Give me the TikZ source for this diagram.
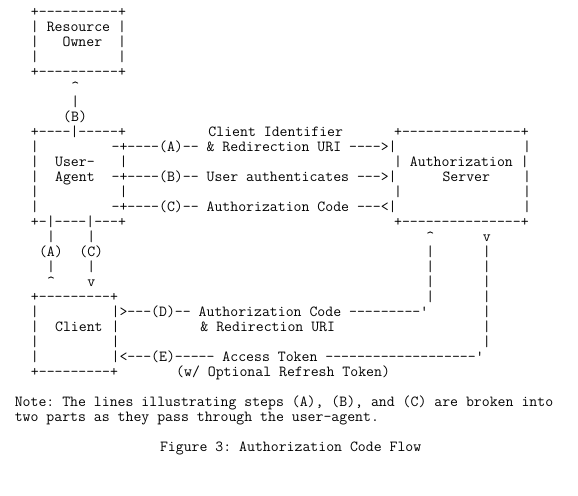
\documentclass[tikz,border=0pt]{standalone}
\usepackage{fontspec}
\setmonofont{Latin Modern Mono}
\usepackage{tikz}

\begin{document}
\begin{tikzpicture}[
    x = 6.0525pt,
    y = -11.25pt,
    ascii/.style = {
      anchor = base west,
      inner sep = 0pt,
      outer sep = 0pt,
      font = \ttfamily\fontsize{11.53pt}{11.25pt}\selectfont}]
  \useasboundingbox (1.165,-0.133) rectangle (72.79,32.93);

% resource owner
  \node[ascii] (owner top) at (5,1) {+----------+};
  \node[ascii] (owner l2)  at (5,2) {| Resource |};
  \node[ascii] (owner l3)  at (5,3) {|~~~Owner~~|};
  \node[ascii] (owner l4)  at (5,4) {|~~~~~~~~~~|};
  \node[ascii] (owner bot) at (5,5) {+----------+};

  \node[ascii] (b up)    at (10,6) {\textasciicircum};
  \node[ascii] (b bar)   at (10,7) {|};
  \node[ascii] (b label) at (9,8)  {(B)};

% user-agent
  \node[ascii] (agent top) at (5,9)  {+----|-----+};
  \node[ascii] (agent l10) at (5,10) {|};
  \node[ascii] (agent l11) at (5,11) {|};
  \node[ascii] (agent l12) at (5,12) {|};
  \node[ascii] (agent l13) at (5,13) {|};
  \node[ascii] (agent l14) at (5,14) {|};
  \node[ascii] (agent user)  at (8,11) {User-};
  \node[ascii] (agent agent) at (8,12) {Agent};
  \node[ascii] (agent r11) at (16,11) {|};
  \node[ascii] (agent r13) at (16,13) {|};
  \node[ascii] (agent bot) at (5,15) {+-|----|---+};

% steps (A), (B), (C)
  \node[ascii] (client id) at (27,9) {Client Identifier};
  \node[ascii] (step a) at (15,10) {-+----(A)-- \& Redirection URI ---->|};
  \node[ascii] (step b) at (15,12) {-+----(B)-- User authenticates --->|};
  \node[ascii] (step c) at (15,14) {-+----(C)-- Authorization Code ---<|};

% authorization server
  \node[ascii] (server top)  at (50,9)  {+---------------+};
  \node[ascii] (server r10)  at (66,10) {|};
  \node[ascii] (server name) at (50,11) {| Authorization |};
  \node[ascii] (server l12)  at (56,12) {Server};
  \node[ascii] (server r12)  at (66,12) {|};
  \node[ascii] (server l13)  at (50,13) {|};
  \node[ascii] (server r13)  at (66,13) {|};
  \node[ascii] (server r14)  at (66,14) {|};
  \node[ascii] (server bot)  at (50,15) {+---------------+};

% legs (A) and (C)
  \node[ascii] (a bar1)  at (7,16)  {|};
  \node[ascii] (c bar1)  at (12,16) {|};
  \node[ascii] (a label) at (6,17)  {(A)};
  \node[ascii] (c label) at (11,17) {(C)};
  \node[ascii] (a bar2)  at (7,18)  {|};
  \node[ascii] (c bar2)  at (12,18) {|};
  \node[ascii] (a up)    at (7,19)  {\textasciicircum};
  \node[ascii] (c down)  at (12,19) {v};

% legs (D) and (E)
  \node[ascii] (d up)   at (54,16) {\textasciicircum};
  \node[ascii] (e down) at (61,16) {v};
  \foreach \n in {17,...,20}
    \node[ascii] (d bar\n) at (54,\n) {|};
  \foreach \n in {17,...,23}
    \node[ascii] (e bar\n) at (61,\n) {|};

% client
  \node[ascii] (client top) at (5,20)  {+---------+};
  \node[ascii] (client l21) at (5,21)  {|};
  \node[ascii] (client l22) at (5,22)  {|};
  \node[ascii] (client l23) at (5,23)  {|};
  \node[ascii] (client l24) at (5,24)  {|};
  \node[ascii] (client name) at (8,22) {Client};
  \node[ascii] (client r22) at (15,22) {|};
  \node[ascii] (client r23) at (15,23) {|};
  \node[ascii] (client bot) at (5,25)  {+---------+};

% steps (D), (E)
  \node[ascii] (step d)  at (15,21) {|>---(D)-- Authorization Code ---------'};
  \node[ascii] (step d2) at (26,22) {\& Redirection URI};
  \node[ascii] (step e)  at (15,24) {|<---(E)----- Access Token -------------------'};
  \node[ascii] (step e2) at (23,25) {(w/ Optional Refresh Token)};

% note and caption
  \node[ascii] (note1) at (3,27) {Note: The lines illustrating steps (A), (B), and (C) are broken into};
  \node[ascii] (note2) at (3,28) {two parts as they pass through the user-agent.};
  \node[ascii] (caption) at (21,30) {Figure 3: Authorization Code Flow};

\end{tikzpicture}
\end{document}
